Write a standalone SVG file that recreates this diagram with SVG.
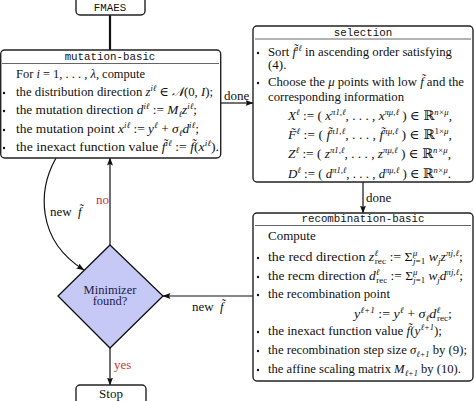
<svg xmlns="http://www.w3.org/2000/svg" width="474" height="401" viewBox="0 0 474 401">
<defs>
<marker id="ah" markerWidth="8" markerHeight="6" refX="7.5" refY="3" orient="auto" markerUnits="userSpaceOnUse">
<path d="M0,0 L8,3 L0,6 L1.5,3 Z" fill="#111"/>
</marker>
<style>
.box{fill:#fff;stroke:#222;stroke-width:1.4}
.hl{stroke:#666;stroke-width:1}
.hd{font-family:"Liberation Mono","DejaVu Sans Mono",monospace;font-size:10.8px;fill:#111;text-anchor:middle}
.t{font-family:"Liberation Serif","DejaVu Serif",serif;font-size:13px;fill:#111}
.i{font-style:italic}
.s{font-size:8.5px}
.bul{fill:#111}
.ln{stroke:#111;stroke-width:1.2;fill:none}
.lbl{font-family:"Liberation Serif","DejaVu Serif",serif;font-size:13px;fill:#111}
.red{fill:#cc3333}
</style>
</defs>
<rect width="474" height="401" fill="#fff"/>

<g id="connectors">
<line class="ln" x1="110" y1="15" x2="110" y2="50" style="stroke-width:2.2"/>
<line class="ln" x1="221" y1="103" x2="253" y2="103" marker-end="url(#ah)"/>
<line class="ln" x1="363" y1="182" x2="363" y2="213" marker-end="url(#ah)"/>
<line class="ln" x1="253" y1="296" x2="163" y2="296" marker-end="url(#ah)"/>
<line class="ln" x1="110" y1="348" x2="110" y2="385" marker-end="url(#ah)"/>
<line class="ln" x1="110" y1="245" x2="110" y2="158" marker-end="url(#ah)"/>
<path class="ln" d="M56,158 C38,190 36,240 84,270" marker-end="url(#ah)"/>
<text class="lbl" x="224" y="100">done</text>
<text class="lbl" x="366" y="202">done</text>
<text class="lbl" x="192" y="311">new <tspan class="i" dx="3">f̃</tspan></text>
<text class="lbl" x="50" y="216">new <tspan class="i" dx="3">f̃</tspan></text>
<text class="lbl red" x="96" y="204">no</text>
<text class="lbl red" x="114" y="369">yes</text>
</g>

<g id="fmaes">
<rect class="box" x="76" y="-6" width="69" height="21" rx="4"/>
<text class="hd" x="110" y="11">FMAES</text>
</g>

<g id="mutation-basic">
<rect class="box" x="0.7" y="50" width="220" height="108" rx="4"/>
<line class="hl" x1="2" y1="63.5" x2="219" y2="63.5"/>
<text class="hd" x="110" y="60">mutation-basic</text>
<text class="t" x="16" y="78" textLength="129" lengthAdjust="spacingAndGlyphs">For <tspan class="i">i</tspan> = 1, . . . , <tspan class="i">λ</tspan>, compute</text>
<circle class="bul" cx="4" cy="93" r="1.2"/>
<text class="t" x="16" y="96" textLength="197" lengthAdjust="spacingAndGlyphs">the distribution direction <tspan class="i">z</tspan><tspan class="s i" dy="-5">iℓ</tspan><tspan dy="5"> ∈ </tspan><tspan class="i">𝒩</tspan>(0, <tspan class="i">I</tspan>);</text>
<circle class="bul" cx="4" cy="111" r="1.2"/>
<text class="t" x="16" y="114" textLength="181" lengthAdjust="spacingAndGlyphs">the mutation direction <tspan class="i">d</tspan><tspan class="s i" dy="-5">iℓ</tspan><tspan dy="5"> := </tspan><tspan class="i">M</tspan><tspan class="s i" dy="3">ℓ</tspan><tspan class="i" dy="-3">z</tspan><tspan class="s i" dy="-5">iℓ</tspan><tspan dy="5">;</tspan></text>
<circle class="bul" cx="4" cy="130" r="1.2"/>
<text class="t" x="16" y="133" textLength="183" lengthAdjust="spacingAndGlyphs">the mutation point <tspan class="i">x</tspan><tspan class="s i" dy="-5">iℓ</tspan><tspan dy="5"> := </tspan><tspan class="i">y</tspan><tspan class="s i" dy="-5">ℓ</tspan><tspan dy="5"> + </tspan><tspan class="i">σ</tspan><tspan class="s i" dy="3">ℓ</tspan><tspan class="i" dy="-3">d</tspan><tspan class="s i" dy="-5">iℓ</tspan><tspan dy="5">;</tspan></text>
<circle class="bul" cx="4" cy="148" r="1.2"/>
<text class="t" x="16" y="151" textLength="203" lengthAdjust="spacingAndGlyphs">the inexact function value <tspan class="i">f̃</tspan><tspan class="s i" dy="-5">iℓ</tspan><tspan dy="5"> := </tspan><tspan class="i">f̃</tspan>(<tspan class="i">x</tspan><tspan class="s i" dy="-5">iℓ</tspan><tspan dy="5">).</tspan></text>
</g>

<g id="selection">
<rect class="box" x="253" y="26" width="220" height="156" rx="4"/>
<line class="hl" x1="255" y1="39" x2="471" y2="39"/>
<text class="hd" x="363" y="36">selection</text>
<circle class="bul" cx="258" cy="53" r="1.2"/>
<text class="t" x="268" y="56" textLength="184" lengthAdjust="spacingAndGlyphs">Sort <tspan class="i">f̃</tspan><tspan class="s i" dy="-5">iℓ</tspan><tspan dy="5"> in ascending order satisfying</tspan></text>
<text class="t" x="268" y="69">(4).</text>
<circle class="bul" cx="258" cy="83" r="1.2"/>
<text class="t" x="268" y="86" textLength="196" lengthAdjust="spacingAndGlyphs">Choose the <tspan class="i">μ</tspan> points with low <tspan class="i">f̃</tspan> and the</text>
<text class="t" x="268" y="101" textLength="136" lengthAdjust="spacingAndGlyphs">corresponding information</text>
<text class="t" x="288" y="120" textLength="164" lengthAdjust="spacingAndGlyphs"><tspan class="i">X</tspan><tspan class="s i" dy="-5">ℓ</tspan><tspan dy="5"> := ( </tspan><tspan class="i">x</tspan><tspan class="s i" dy="-5">π1,ℓ</tspan><tspan dy="5">, . . . , </tspan><tspan class="i">x</tspan><tspan class="s i" dy="-5">πμ,ℓ</tspan><tspan dy="5"> ) ∈ ℝ</tspan><tspan class="s i" dy="-5">n×μ</tspan><tspan dy="5">,</tspan></text>
<text class="t" x="288" y="139" textLength="164" lengthAdjust="spacingAndGlyphs"><tspan class="i">F̃</tspan><tspan class="s i" dy="-5">ℓ</tspan><tspan dy="5"> := ( </tspan><tspan class="i">f̃</tspan><tspan class="s i" dy="-5">π1,ℓ</tspan><tspan dy="5">, . . . , </tspan><tspan class="i">f̃</tspan><tspan class="s i" dy="-5">πμ,ℓ</tspan><tspan dy="5"> ) ∈ ℝ</tspan><tspan class="s" dy="-5">1×<tspan class="i">μ</tspan></tspan><tspan dy="5">,</tspan></text>
<text class="t" x="288" y="158" textLength="163" lengthAdjust="spacingAndGlyphs"><tspan class="i">Z</tspan><tspan class="s i" dy="-5">ℓ</tspan><tspan dy="5"> := ( </tspan><tspan class="i">z</tspan><tspan class="s i" dy="-5">π1,ℓ</tspan><tspan dy="5">, . . . , </tspan><tspan class="i">z</tspan><tspan class="s i" dy="-5">πμ,ℓ</tspan><tspan dy="5"> ) ∈ ℝ</tspan><tspan class="s i" dy="-5">n×μ</tspan><tspan dy="5">,</tspan></text>
<text class="t" x="288" y="178" textLength="163" lengthAdjust="spacingAndGlyphs"><tspan class="i">D</tspan><tspan class="s i" dy="-5">ℓ</tspan><tspan dy="5"> := ( </tspan><tspan class="i">d</tspan><tspan class="s i" dy="-5">π1,ℓ</tspan><tspan dy="5">, . . . , </tspan><tspan class="i">d</tspan><tspan class="s i" dy="-5">πμ,ℓ</tspan><tspan dy="5"> ) ∈ ℝ</tspan><tspan class="s i" dy="-5">n×μ</tspan><tspan dy="5">.</tspan></text>
</g>

<g id="recombination-basic">
<rect class="box" x="253" y="213" width="220" height="168" rx="4"/>
<line class="hl" x1="255" y1="225.5" x2="471" y2="225.5"/>
<text class="hd" x="363" y="222">recombination-basic</text>
<text class="t" x="268" y="240">Compute</text>
<circle class="bul" cx="258" cy="258" r="1.2"/>
<text class="t" x="268" y="261" textLength="195" lengthAdjust="spacingAndGlyphs">the recd direction <tspan class="i">z</tspan><tspan class="s i" dy="-5">ℓ</tspan><tspan class="s" dx="-3" dy="8">rec</tspan><tspan dy="-3"> := Σ</tspan><tspan class="s i" dy="-5">μ</tspan><tspan class="s" dx="-4" dy="8"><tspan class="i">j</tspan>=1</tspan><tspan class="i" dy="-3"> w</tspan><tspan class="s i" dy="3">j</tspan><tspan class="i" dy="-3">z</tspan><tspan class="s i" dy="-5">πj,ℓ</tspan><tspan dy="5">;</tspan></text>
<circle class="bul" cx="258" cy="277" r="1.2"/>
<text class="t" x="268" y="280" textLength="195" lengthAdjust="spacingAndGlyphs">the recm direction <tspan class="i">d</tspan><tspan class="s i" dy="-5">ℓ</tspan><tspan class="s" dx="-3" dy="8">rec</tspan><tspan dy="-3"> := Σ</tspan><tspan class="s i" dy="-5">μ</tspan><tspan class="s" dx="-4" dy="8"><tspan class="i">j</tspan>=1</tspan><tspan class="i" dy="-3"> w</tspan><tspan class="s i" dy="3">j</tspan><tspan class="i" dy="-3">d</tspan><tspan class="s i" dy="-5">πj,ℓ</tspan><tspan dy="5">;</tspan></text>
<circle class="bul" cx="258" cy="295" r="1.2"/>
<text class="t" x="268" y="298" textLength="122" lengthAdjust="spacingAndGlyphs">the recombination point</text>
<text class="t" x="354" y="318" textLength="98" lengthAdjust="spacingAndGlyphs"><tspan class="i">y</tspan><tspan class="s i" dy="-5">ℓ+1</tspan><tspan dy="5"> := </tspan><tspan class="i">y</tspan><tspan class="s i" dy="-5">ℓ</tspan><tspan dy="5"> + </tspan><tspan class="i">σ</tspan><tspan class="s i" dy="3">ℓ</tspan><tspan class="i" dy="-3">d</tspan><tspan class="s i" dy="-5">ℓ</tspan><tspan class="s" dx="-3" dy="8">rec</tspan><tspan dy="-3">;</tspan></text>
<circle class="bul" cx="258" cy="332" r="1.2"/>
<text class="t" x="268" y="335" textLength="174" lengthAdjust="spacingAndGlyphs">the inexact function value <tspan class="i">f̃</tspan>(<tspan class="i">y</tspan><tspan class="s i" dy="-5">ℓ+1</tspan><tspan dy="5">);</tspan></text>
<circle class="bul" cx="258" cy="351" r="1.2"/>
<text class="t" x="268" y="354" textLength="199" lengthAdjust="spacingAndGlyphs">the recombination step size <tspan class="i">σ</tspan><tspan class="s i" dy="3">ℓ+1</tspan><tspan dy="-3"> by (9);</tspan></text>
<circle class="bul" cx="258" cy="370" r="1.2"/>
<text class="t" x="268" y="373" textLength="193" lengthAdjust="spacingAndGlyphs">the affine scaling matrix <tspan class="i">M</tspan><tspan class="s i" dy="3">ℓ+1</tspan><tspan dy="-3"> by (10).</tspan></text>
</g>

<g id="decision">
<polygon points="110,245 163,296 110,348 58,296" fill="#c6c8f6" stroke="#111" stroke-width="1.3"/>
<text class="t" x="110" y="294" text-anchor="middle" style="fill:#222244;font-size:12.5px">Minimizer</text>
<text class="t" x="110" y="305" text-anchor="middle" style="fill:#222244;font-size:12.5px">found?</text>
</g>

<g id="stop">
<rect class="box" x="76" y="385" width="70" height="22" rx="4"/>
<text class="t" x="111" y="398" text-anchor="middle">Stop</text>
</g>
</svg>
